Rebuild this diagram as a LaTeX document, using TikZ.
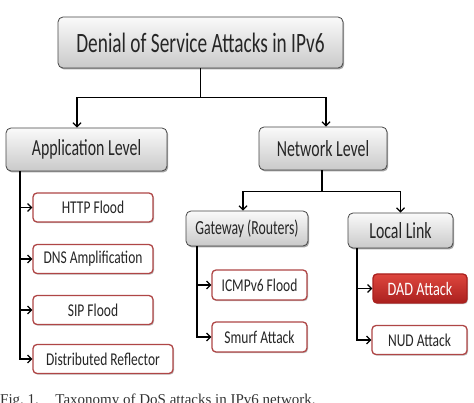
\documentclass[tikz,border=0pt]{standalone}
\usepackage{fontspec}
\setmainfont{Liberation Serif}
\newfontfamily\bigboxfont[FakeStretch=0.69]{Carlito}
\newfontfamily\leafboxfont[FakeStretch=0.75]{Carlito}
\usetikzlibrary{arrows.meta,shadows,calc}
\definecolor{redline}{RGB}{175,70,70}
\definecolor{dadtop}{RGB}{222,70,62}
\definecolor{dadbot}{RGB}{170,32,30}
\tikzset{
  graybox/.style={draw=gray!55!black, line width=0.8pt, rounded corners=5pt,
    top color=gray!4, bottom color=gray!42, inner sep=0pt,
    drop shadow={shadow xshift=1.2pt, shadow yshift=-1.5pt, opacity=0.35, fill=black},
    font=\bigboxfont, text=black!85},
  leafbox/.style={draw=redline, line width=1.3pt, rounded corners=4pt, fill=white,
    inner sep=0pt, font=\leafboxfont\fontsize{18}{20}\selectfont, text=black!85,
    drop shadow={shadow xshift=1pt, shadow yshift=-1.2pt, opacity=0.25, fill=black}},
  dadbox/.style={leafbox, draw=dadbot, top color=dadtop, bottom color=dadbot, text=white,
    font=\leafboxfont\fontsize{19}{21}\selectfont},
  conn/.style={line width=1.4pt, black},
  arr/.style={conn, -{Straight Barb[length=4pt,width=8pt,line width=1.2pt]}},
}
\begin{document}
\begin{tikzpicture}[x=1pt,y=-1pt]
\useasboundingbox (0,0) rectangle (474,403);
\fill[white] (0,0) rectangle (474,403);

\node[graybox, minimum width=285pt, minimum height=51pt, font=\bigboxfont\fontsize{28}{30}\selectfont] (dos) at (200.5,42.5) {Denial of Service Attacks in IPv6};
\node[graybox, minimum width=161pt, minimum height=43pt, font=\bigboxfont\fontsize{23}{25}\selectfont] (app) at (86.5,149.5) {Application Level};
\node[graybox, minimum width=128pt, minimum height=43pt, font=\bigboxfont\fontsize{23}{25}\selectfont] (net) at (323,148.5) {Network Level};
\node[graybox, minimum width=122pt, minimum height=35pt, font=\bigboxfont\fontsize{20}{22}\selectfont] (gw) at (247,228.5) {Gateway (Routers)};
\node[graybox, minimum width=105pt, minimum height=35pt, font=\bigboxfont\fontsize{23}{25}\selectfont] (ll) at (400.5,230.5) {Local Link};

\node[leafbox, minimum width=120pt, minimum height=29pt] (http) at (93,207.5) {HTTP Flood};
\node[leafbox, minimum width=120pt, minimum height=29pt] (dns) at (93,259) {DNS Amplification};
\node[leafbox, minimum width=120pt, minimum height=29pt] (sip) at (93,310) {SIP Flood};
\node[leafbox, minimum width=140pt, minimum height=29pt] (dr) at (103,359) {Distributed Reflector};
\node[leafbox, minimum width=95pt, minimum height=30pt] (icmp) at (259.5,285) {ICMPv6 Flood};
\node[leafbox, minimum width=95pt, minimum height=30pt] (smurf) at (259.5,337) {Smurf Attack};
\node[dadbox, minimum width=94pt, minimum height=29pt] (dad) at (420,288.5) {DAD Attack};
\node[leafbox, minimum width=95pt, minimum height=29pt] (nud) at (419.5,340) {NUD Attack};

% top level connectors
\coordinate (j1) at ($(dos.south)+(0,29)$);
\draw[conn] (dos.south) -- (j1);
\draw[arr] (j1) -| ([xshift=-9.5pt]app.north);
\draw[arr] (j1) -| ([xshift=3pt]net.north);

% network level
\coordinate (j2) at ($(net.south)+(-1,21)$);
\draw[conn] ([xshift=-1pt]net.south) -- (j2);
\draw[arr] (j2) -| ([xshift=-4pt]gw.north);
\draw[arr] (j2) -| (ll.north);

% application level leaves
\coordinate (av) at ([xshift=-66.5pt]app.south);
\draw[arr] (av) |- (dr.west);
\draw[arr] (av |- http.west) -- (http.west);
\draw[arr] (av |- dns.west) -- (dns.west);
\draw[arr] (av |- sip.west) -- (sip.west);

% gateway leaves
\coordinate (gv) at ([xshift=-50pt]gw.south);
\draw[arr] (gv) |- (smurf.west);
\draw[arr] (gv |- icmp.west) -- (icmp.west);

% local link leaves
\coordinate (lv) at ([xshift=-43.5pt]ll.south);
\draw[arr] (lv) |- (nud.west);
\draw[arr] (lv |- dad.west) -- (dad.west);

% caption (cut by the picture's lower edge, as in the reference)
\node[anchor=base west, inner sep=0pt, font=\fontsize{15}{17}\selectfont, text=black!80] (cap) at (0,404) {Fig.~1.\hspace{1.1em}Taxonomy of DoS attacks in IPv6 network.};
\end{tikzpicture}
\end{document}
